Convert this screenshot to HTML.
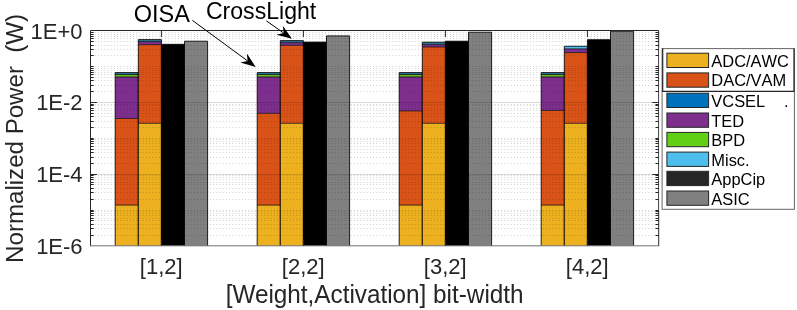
<!DOCTYPE html>
<html><head><meta charset="utf-8"><title>Normalized Power</title>
<style>html,body{margin:0;padding:0;background:#fff}svg{display:block}text{font-family:"Liberation Sans",Arial,Helvetica,sans-serif}</style></head><body>
<svg width="797" height="310" viewBox="0 0 797 310">
<rect width="797" height="310" fill="#fff"/>
<clipPath id="pc"><rect x="90.5" y="29.5" width="568.20" height="216.30"/></clipPath>
<g clip-path="url(#pc)">
<rect x="115.20" y="205.10" width="23.10" height="43.50" fill="#EDB120"/>
<rect x="115.20" y="118.50" width="23.10" height="86.60" fill="#D95319"/>
<rect x="115.20" y="76.90" width="23.10" height="41.60" fill="#7E2F8E"/>
<rect x="115.20" y="74.50" width="23.10" height="2.40" fill="#66BE1E"/>
<rect x="115.20" y="72.60" width="23.10" height="1.90" fill="#2A7A9C"/>
<line x1="115.20" x2="138.30" y1="205.10" y2="205.10" stroke="#000" stroke-width="0.7"/>
<line x1="115.20" x2="138.30" y1="118.50" y2="118.50" stroke="#000" stroke-width="0.7"/>
<line x1="115.20" x2="138.30" y1="76.90" y2="76.90" stroke="#000" stroke-width="0.7"/>
<line x1="115.20" x2="138.30" y1="74.50" y2="74.50" stroke="#000" stroke-width="0.7"/>
<path d="M115.20 248.6V72.60H138.30V248.6" fill="none" stroke="#000" stroke-width="0.85"/>
<rect x="138.30" y="123.30" width="23.10" height="125.30" fill="#EDB120"/>
<rect x="138.30" y="44.60" width="23.10" height="78.70" fill="#D95319"/>
<rect x="138.30" y="41.60" width="23.10" height="3.00" fill="#7E2F8E"/>
<rect x="138.30" y="39.60" width="23.10" height="2.00" fill="#2A7A9C"/>
<line x1="138.30" x2="161.40" y1="123.30" y2="123.30" stroke="#000" stroke-width="0.7"/>
<line x1="138.30" x2="161.40" y1="44.60" y2="44.60" stroke="#000" stroke-width="0.7"/>
<line x1="138.30" x2="161.40" y1="41.60" y2="41.60" stroke="#000" stroke-width="0.7"/>
<path d="M138.30 248.6V39.60H161.40V248.6" fill="none" stroke="#000" stroke-width="0.85"/>
<rect x="161.40" y="44.30" width="23.10" height="204.30" fill="#000000"/>
<path d="M161.40 248.6V44.30H184.50V248.6" fill="none" stroke="#000" stroke-width="0.85"/>
<rect x="184.50" y="41.20" width="23.10" height="207.40" fill="#808080"/>
<path d="M184.50 248.6V41.20H207.60V248.6" fill="none" stroke="#000" stroke-width="0.85"/>
<rect x="257.20" y="205.10" width="23.10" height="43.50" fill="#EDB120"/>
<rect x="257.20" y="113.30" width="23.10" height="91.80" fill="#D95319"/>
<rect x="257.20" y="76.90" width="23.10" height="36.40" fill="#7E2F8E"/>
<rect x="257.20" y="74.50" width="23.10" height="2.40" fill="#66BE1E"/>
<rect x="257.20" y="72.60" width="23.10" height="1.90" fill="#2A7A9C"/>
<line x1="257.20" x2="280.30" y1="205.10" y2="205.10" stroke="#000" stroke-width="0.7"/>
<line x1="257.20" x2="280.30" y1="113.30" y2="113.30" stroke="#000" stroke-width="0.7"/>
<line x1="257.20" x2="280.30" y1="76.90" y2="76.90" stroke="#000" stroke-width="0.7"/>
<line x1="257.20" x2="280.30" y1="74.50" y2="74.50" stroke="#000" stroke-width="0.7"/>
<path d="M257.20 248.6V72.60H280.30V248.6" fill="none" stroke="#000" stroke-width="0.85"/>
<rect x="280.30" y="123.30" width="23.10" height="125.30" fill="#EDB120"/>
<rect x="280.30" y="45.30" width="23.10" height="78.00" fill="#D95319"/>
<rect x="280.30" y="42.60" width="23.10" height="2.70" fill="#7E2F8E"/>
<rect x="280.30" y="40.60" width="23.10" height="2.00" fill="#2A7A9C"/>
<line x1="280.30" x2="303.40" y1="123.30" y2="123.30" stroke="#000" stroke-width="0.7"/>
<line x1="280.30" x2="303.40" y1="45.30" y2="45.30" stroke="#000" stroke-width="0.7"/>
<line x1="280.30" x2="303.40" y1="42.60" y2="42.60" stroke="#000" stroke-width="0.7"/>
<path d="M280.30 248.6V40.60H303.40V248.6" fill="none" stroke="#000" stroke-width="0.85"/>
<rect x="303.40" y="42.10" width="23.10" height="206.50" fill="#000000"/>
<path d="M303.40 248.6V42.10H326.50V248.6" fill="none" stroke="#000" stroke-width="0.85"/>
<rect x="326.50" y="35.90" width="23.10" height="212.70" fill="#808080"/>
<path d="M326.50 248.6V35.90H349.60V248.6" fill="none" stroke="#000" stroke-width="0.85"/>
<rect x="399.20" y="205.10" width="23.10" height="43.50" fill="#EDB120"/>
<rect x="399.20" y="110.90" width="23.10" height="94.20" fill="#D95319"/>
<rect x="399.20" y="76.90" width="23.10" height="34.00" fill="#7E2F8E"/>
<rect x="399.20" y="74.50" width="23.10" height="2.40" fill="#66BE1E"/>
<rect x="399.20" y="72.60" width="23.10" height="1.90" fill="#2A7A9C"/>
<line x1="399.20" x2="422.30" y1="205.10" y2="205.10" stroke="#000" stroke-width="0.7"/>
<line x1="399.20" x2="422.30" y1="110.90" y2="110.90" stroke="#000" stroke-width="0.7"/>
<line x1="399.20" x2="422.30" y1="76.90" y2="76.90" stroke="#000" stroke-width="0.7"/>
<line x1="399.20" x2="422.30" y1="74.50" y2="74.50" stroke="#000" stroke-width="0.7"/>
<path d="M399.20 248.6V72.60H422.30V248.6" fill="none" stroke="#000" stroke-width="0.85"/>
<rect x="422.30" y="123.30" width="23.10" height="125.30" fill="#EDB120"/>
<rect x="422.30" y="47.00" width="23.10" height="76.30" fill="#D95319"/>
<rect x="422.30" y="44.40" width="23.10" height="2.60" fill="#7E2F8E"/>
<rect x="422.30" y="42.20" width="23.10" height="2.20" fill="#2A7A9C"/>
<line x1="422.30" x2="445.40" y1="123.30" y2="123.30" stroke="#000" stroke-width="0.7"/>
<line x1="422.30" x2="445.40" y1="47.00" y2="47.00" stroke="#000" stroke-width="0.7"/>
<line x1="422.30" x2="445.40" y1="44.40" y2="44.40" stroke="#000" stroke-width="0.7"/>
<path d="M422.30 248.6V42.20H445.40V248.6" fill="none" stroke="#000" stroke-width="0.85"/>
<rect x="445.40" y="41.20" width="23.10" height="207.40" fill="#000000"/>
<path d="M445.40 248.6V41.20H468.50V248.6" fill="none" stroke="#000" stroke-width="0.85"/>
<rect x="468.50" y="32.20" width="23.10" height="216.40" fill="#808080"/>
<path d="M468.50 248.6V32.20H491.60V248.6" fill="none" stroke="#000" stroke-width="0.85"/>
<rect x="541.20" y="205.10" width="23.10" height="43.50" fill="#EDB120"/>
<rect x="541.20" y="110.40" width="23.10" height="94.70" fill="#D95319"/>
<rect x="541.20" y="76.90" width="23.10" height="33.50" fill="#7E2F8E"/>
<rect x="541.20" y="74.50" width="23.10" height="2.40" fill="#66BE1E"/>
<rect x="541.20" y="72.60" width="23.10" height="1.90" fill="#2A7A9C"/>
<line x1="541.20" x2="564.30" y1="205.10" y2="205.10" stroke="#000" stroke-width="0.7"/>
<line x1="541.20" x2="564.30" y1="110.40" y2="110.40" stroke="#000" stroke-width="0.7"/>
<line x1="541.20" x2="564.30" y1="76.90" y2="76.90" stroke="#000" stroke-width="0.7"/>
<line x1="541.20" x2="564.30" y1="74.50" y2="74.50" stroke="#000" stroke-width="0.7"/>
<path d="M541.20 248.6V72.60H564.30V248.6" fill="none" stroke="#000" stroke-width="0.85"/>
<rect x="564.30" y="123.30" width="23.10" height="125.30" fill="#EDB120"/>
<rect x="564.30" y="52.60" width="23.10" height="70.70" fill="#D95319"/>
<rect x="564.30" y="48.80" width="23.10" height="3.80" fill="#7E2F8E"/>
<rect x="564.30" y="46.30" width="23.10" height="2.50" fill="#4DBEEE"/>
<line x1="564.30" x2="587.40" y1="123.30" y2="123.30" stroke="#000" stroke-width="0.7"/>
<line x1="564.30" x2="587.40" y1="52.60" y2="52.60" stroke="#000" stroke-width="0.7"/>
<line x1="564.30" x2="587.40" y1="48.80" y2="48.80" stroke="#000" stroke-width="0.7"/>
<path d="M564.30 248.6V46.30H587.40V248.6" fill="none" stroke="#000" stroke-width="0.85"/>
<rect x="587.40" y="39.70" width="23.10" height="208.90" fill="#000000"/>
<path d="M587.40 248.6V39.70H610.50V248.6" fill="none" stroke="#000" stroke-width="0.85"/>
<rect x="610.50" y="31.20" width="23.10" height="217.40" fill="#808080"/>
<path d="M610.50 248.6V31.20H633.60V248.6" fill="none" stroke="#000" stroke-width="0.85"/>
</g>
<g stroke="#000" fill="none">
<line x1="91.50" x2="658.70" y1="235.50" y2="235.50" stroke-opacity="0.18" stroke-width="1" stroke-dasharray="1 2.2"/>
<line x1="91.50" x2="658.70" y1="228.50" y2="228.50" stroke-opacity="0.18" stroke-width="1" stroke-dasharray="1 2.2"/>
<line x1="91.50" x2="658.70" y1="224.50" y2="224.50" stroke-opacity="0.18" stroke-width="1" stroke-dasharray="1 2.2"/>
<line x1="91.50" x2="658.70" y1="220.50" y2="220.50" stroke-opacity="0.18" stroke-width="1" stroke-dasharray="1 2.2"/>
<line x1="91.50" x2="658.70" y1="218.50" y2="218.50" stroke-opacity="0.18" stroke-width="1" stroke-dasharray="1 2.2"/>
<line x1="91.50" x2="658.70" y1="215.50" y2="215.50" stroke-opacity="0.18" stroke-width="1" stroke-dasharray="1 2.2"/>
<line x1="91.50" x2="658.70" y1="213.50" y2="213.50" stroke-opacity="0.18" stroke-width="1" stroke-dasharray="1 2.2"/>
<line x1="91.50" x2="658.70" y1="211.50" y2="211.50" stroke-opacity="0.18" stroke-width="1" stroke-dasharray="1 2.2"/>
<line x1="91.50" x2="658.70" y1="210.50" y2="210.50" stroke-opacity="0.18" stroke-width="1" stroke-dasharray="1 2.2"/>
<line x1="91.50" x2="658.70" y1="199.50" y2="199.50" stroke-opacity="0.18" stroke-width="1" stroke-dasharray="1 2.2"/>
<line x1="91.50" x2="658.70" y1="192.50" y2="192.50" stroke-opacity="0.18" stroke-width="1" stroke-dasharray="1 2.2"/>
<line x1="91.50" x2="658.70" y1="188.50" y2="188.50" stroke-opacity="0.18" stroke-width="1" stroke-dasharray="1 2.2"/>
<line x1="91.50" x2="658.70" y1="184.50" y2="184.50" stroke-opacity="0.18" stroke-width="1" stroke-dasharray="1 2.2"/>
<line x1="91.50" x2="658.70" y1="182.50" y2="182.50" stroke-opacity="0.18" stroke-width="1" stroke-dasharray="1 2.2"/>
<line x1="91.50" x2="658.70" y1="179.50" y2="179.50" stroke-opacity="0.18" stroke-width="1" stroke-dasharray="1 2.2"/>
<line x1="91.50" x2="658.70" y1="177.50" y2="177.50" stroke-opacity="0.18" stroke-width="1" stroke-dasharray="1 2.2"/>
<line x1="91.50" x2="658.70" y1="175.50" y2="175.50" stroke-opacity="0.18" stroke-width="1" stroke-dasharray="1 2.2"/>
<line x1="91.50" x2="658.70" y1="163.50" y2="163.50" stroke-opacity="0.18" stroke-width="1" stroke-dasharray="1 2.2"/>
<line x1="91.50" x2="658.70" y1="157.50" y2="157.50" stroke-opacity="0.18" stroke-width="1" stroke-dasharray="1 2.2"/>
<line x1="91.50" x2="658.70" y1="152.50" y2="152.50" stroke-opacity="0.18" stroke-width="1" stroke-dasharray="1 2.2"/>
<line x1="91.50" x2="658.70" y1="149.50" y2="149.50" stroke-opacity="0.18" stroke-width="1" stroke-dasharray="1 2.2"/>
<line x1="91.50" x2="658.70" y1="146.50" y2="146.50" stroke-opacity="0.18" stroke-width="1" stroke-dasharray="1 2.2"/>
<line x1="91.50" x2="658.70" y1="143.50" y2="143.50" stroke-opacity="0.18" stroke-width="1" stroke-dasharray="1 2.2"/>
<line x1="91.50" x2="658.70" y1="141.50" y2="141.50" stroke-opacity="0.18" stroke-width="1" stroke-dasharray="1 2.2"/>
<line x1="91.50" x2="658.70" y1="139.50" y2="139.50" stroke-opacity="0.18" stroke-width="1" stroke-dasharray="1 2.2"/>
<line x1="91.50" x2="658.70" y1="138.50" y2="138.50" stroke-opacity="0.18" stroke-width="1" stroke-dasharray="1 2.2"/>
<line x1="91.50" x2="658.70" y1="127.50" y2="127.50" stroke-opacity="0.18" stroke-width="1" stroke-dasharray="1 2.2"/>
<line x1="91.50" x2="658.70" y1="121.50" y2="121.50" stroke-opacity="0.18" stroke-width="1" stroke-dasharray="1 2.2"/>
<line x1="91.50" x2="658.70" y1="116.50" y2="116.50" stroke-opacity="0.18" stroke-width="1" stroke-dasharray="1 2.2"/>
<line x1="91.50" x2="658.70" y1="113.50" y2="113.50" stroke-opacity="0.18" stroke-width="1" stroke-dasharray="1 2.2"/>
<line x1="91.50" x2="658.70" y1="110.50" y2="110.50" stroke-opacity="0.18" stroke-width="1" stroke-dasharray="1 2.2"/>
<line x1="91.50" x2="658.70" y1="108.50" y2="108.50" stroke-opacity="0.18" stroke-width="1" stroke-dasharray="1 2.2"/>
<line x1="91.50" x2="658.70" y1="105.50" y2="105.50" stroke-opacity="0.18" stroke-width="1" stroke-dasharray="1 2.2"/>
<line x1="91.50" x2="658.70" y1="104.50" y2="104.50" stroke-opacity="0.18" stroke-width="1" stroke-dasharray="1 2.2"/>
<line x1="91.50" x2="658.70" y1="91.50" y2="91.50" stroke-opacity="0.18" stroke-width="1" stroke-dasharray="1 2.2"/>
<line x1="91.50" x2="658.70" y1="85.50" y2="85.50" stroke-opacity="0.18" stroke-width="1" stroke-dasharray="1 2.2"/>
<line x1="91.50" x2="658.70" y1="80.50" y2="80.50" stroke-opacity="0.18" stroke-width="1" stroke-dasharray="1 2.2"/>
<line x1="91.50" x2="658.70" y1="77.50" y2="77.50" stroke-opacity="0.18" stroke-width="1" stroke-dasharray="1 2.2"/>
<line x1="91.50" x2="658.70" y1="74.50" y2="74.50" stroke-opacity="0.18" stroke-width="1" stroke-dasharray="1 2.2"/>
<line x1="91.50" x2="658.70" y1="72.50" y2="72.50" stroke-opacity="0.18" stroke-width="1" stroke-dasharray="1 2.2"/>
<line x1="91.50" x2="658.70" y1="70.50" y2="70.50" stroke-opacity="0.18" stroke-width="1" stroke-dasharray="1 2.2"/>
<line x1="91.50" x2="658.70" y1="68.50" y2="68.50" stroke-opacity="0.18" stroke-width="1" stroke-dasharray="1 2.2"/>
<line x1="91.50" x2="658.70" y1="66.50" y2="66.50" stroke-opacity="0.18" stroke-width="1" stroke-dasharray="1 2.2"/>
<line x1="91.50" x2="658.70" y1="55.50" y2="55.50" stroke-opacity="0.18" stroke-width="1" stroke-dasharray="1 2.2"/>
<line x1="91.50" x2="658.70" y1="49.50" y2="49.50" stroke-opacity="0.18" stroke-width="1" stroke-dasharray="1 2.2"/>
<line x1="91.50" x2="658.70" y1="45.50" y2="45.50" stroke-opacity="0.18" stroke-width="1" stroke-dasharray="1 2.2"/>
<line x1="91.50" x2="658.70" y1="41.50" y2="41.50" stroke-opacity="0.18" stroke-width="1" stroke-dasharray="1 2.2"/>
<line x1="91.50" x2="658.70" y1="38.50" y2="38.50" stroke-opacity="0.18" stroke-width="1" stroke-dasharray="1 2.2"/>
<line x1="91.50" x2="658.70" y1="36.50" y2="36.50" stroke-opacity="0.18" stroke-width="1" stroke-dasharray="1 2.2"/>
<line x1="91.50" x2="658.70" y1="34.50" y2="34.50" stroke-opacity="0.18" stroke-width="1" stroke-dasharray="1 2.2"/>
<line x1="91.50" x2="658.70" y1="32.50" y2="32.50" stroke-opacity="0.18" stroke-width="1" stroke-dasharray="1 2.2"/>
<line x1="90.50" x2="658.70" y1="174.50" y2="174.50" stroke-opacity="0.15" stroke-width="1"/>
<line x1="90.50" x2="658.70" y1="102.50" y2="102.50" stroke-opacity="0.15" stroke-width="1"/>
</g>
<g stroke="#262626" stroke-width="1" fill="none">
<path d="M90.5 246.1V30.5H658.7V246.1"/>
<line x1="90.0" x2="659.2" y1="245.79999999999998" y2="245.79999999999998" stroke="#707070"/>
<line x1="161.40" x2="161.40" y1="30.5" y2="37.1"/>
<line x1="161.40" x2="161.40" y1="245.6" y2="239.6"/>
<line x1="303.40" x2="303.40" y1="30.5" y2="37.1"/>
<line x1="303.40" x2="303.40" y1="245.6" y2="239.6"/>
<line x1="445.40" x2="445.40" y1="30.5" y2="37.1"/>
<line x1="445.40" x2="445.40" y1="245.6" y2="239.6"/>
<line x1="587.40" x2="587.40" y1="30.5" y2="37.1"/>
<line x1="587.40" x2="587.40" y1="245.6" y2="239.6"/>
<line x1="90.5" x2="93.7" y1="235.50" y2="235.50"/>
<line x1="658.7" x2="655.5" y1="235.50" y2="235.50"/>
<line x1="90.5" x2="93.7" y1="228.50" y2="228.50"/>
<line x1="658.7" x2="655.5" y1="228.50" y2="228.50"/>
<line x1="90.5" x2="93.7" y1="224.50" y2="224.50"/>
<line x1="658.7" x2="655.5" y1="224.50" y2="224.50"/>
<line x1="90.5" x2="93.7" y1="220.50" y2="220.50"/>
<line x1="658.7" x2="655.5" y1="220.50" y2="220.50"/>
<line x1="90.5" x2="93.7" y1="218.50" y2="218.50"/>
<line x1="658.7" x2="655.5" y1="218.50" y2="218.50"/>
<line x1="90.5" x2="93.7" y1="215.50" y2="215.50"/>
<line x1="658.7" x2="655.5" y1="215.50" y2="215.50"/>
<line x1="90.5" x2="93.7" y1="213.50" y2="213.50"/>
<line x1="658.7" x2="655.5" y1="213.50" y2="213.50"/>
<line x1="90.5" x2="93.7" y1="211.50" y2="211.50"/>
<line x1="658.7" x2="655.5" y1="211.50" y2="211.50"/>
<line x1="90.5" x2="93.7" y1="210.50" y2="210.50"/>
<line x1="658.7" x2="655.5" y1="210.50" y2="210.50"/>
<line x1="90.5" x2="93.7" y1="199.50" y2="199.50"/>
<line x1="658.7" x2="655.5" y1="199.50" y2="199.50"/>
<line x1="90.5" x2="93.7" y1="192.50" y2="192.50"/>
<line x1="658.7" x2="655.5" y1="192.50" y2="192.50"/>
<line x1="90.5" x2="93.7" y1="188.50" y2="188.50"/>
<line x1="658.7" x2="655.5" y1="188.50" y2="188.50"/>
<line x1="90.5" x2="93.7" y1="184.50" y2="184.50"/>
<line x1="658.7" x2="655.5" y1="184.50" y2="184.50"/>
<line x1="90.5" x2="93.7" y1="182.50" y2="182.50"/>
<line x1="658.7" x2="655.5" y1="182.50" y2="182.50"/>
<line x1="90.5" x2="93.7" y1="179.50" y2="179.50"/>
<line x1="658.7" x2="655.5" y1="179.50" y2="179.50"/>
<line x1="90.5" x2="93.7" y1="177.50" y2="177.50"/>
<line x1="658.7" x2="655.5" y1="177.50" y2="177.50"/>
<line x1="90.5" x2="93.7" y1="175.50" y2="175.50"/>
<line x1="658.7" x2="655.5" y1="175.50" y2="175.50"/>
<line x1="90.5" x2="96.9" y1="174.50" y2="174.50"/>
<line x1="658.7" x2="652.3000000000001" y1="174.50" y2="174.50"/>
<line x1="90.5" x2="93.7" y1="163.50" y2="163.50"/>
<line x1="658.7" x2="655.5" y1="163.50" y2="163.50"/>
<line x1="90.5" x2="93.7" y1="157.50" y2="157.50"/>
<line x1="658.7" x2="655.5" y1="157.50" y2="157.50"/>
<line x1="90.5" x2="93.7" y1="152.50" y2="152.50"/>
<line x1="658.7" x2="655.5" y1="152.50" y2="152.50"/>
<line x1="90.5" x2="93.7" y1="149.50" y2="149.50"/>
<line x1="658.7" x2="655.5" y1="149.50" y2="149.50"/>
<line x1="90.5" x2="93.7" y1="146.50" y2="146.50"/>
<line x1="658.7" x2="655.5" y1="146.50" y2="146.50"/>
<line x1="90.5" x2="93.7" y1="143.50" y2="143.50"/>
<line x1="658.7" x2="655.5" y1="143.50" y2="143.50"/>
<line x1="90.5" x2="93.7" y1="141.50" y2="141.50"/>
<line x1="658.7" x2="655.5" y1="141.50" y2="141.50"/>
<line x1="90.5" x2="93.7" y1="139.50" y2="139.50"/>
<line x1="658.7" x2="655.5" y1="139.50" y2="139.50"/>
<line x1="90.5" x2="93.7" y1="138.50" y2="138.50"/>
<line x1="658.7" x2="655.5" y1="138.50" y2="138.50"/>
<line x1="90.5" x2="93.7" y1="127.50" y2="127.50"/>
<line x1="658.7" x2="655.5" y1="127.50" y2="127.50"/>
<line x1="90.5" x2="93.7" y1="121.50" y2="121.50"/>
<line x1="658.7" x2="655.5" y1="121.50" y2="121.50"/>
<line x1="90.5" x2="93.7" y1="116.50" y2="116.50"/>
<line x1="658.7" x2="655.5" y1="116.50" y2="116.50"/>
<line x1="90.5" x2="93.7" y1="113.50" y2="113.50"/>
<line x1="658.7" x2="655.5" y1="113.50" y2="113.50"/>
<line x1="90.5" x2="93.7" y1="110.50" y2="110.50"/>
<line x1="658.7" x2="655.5" y1="110.50" y2="110.50"/>
<line x1="90.5" x2="93.7" y1="108.50" y2="108.50"/>
<line x1="658.7" x2="655.5" y1="108.50" y2="108.50"/>
<line x1="90.5" x2="93.7" y1="105.50" y2="105.50"/>
<line x1="658.7" x2="655.5" y1="105.50" y2="105.50"/>
<line x1="90.5" x2="93.7" y1="104.50" y2="104.50"/>
<line x1="658.7" x2="655.5" y1="104.50" y2="104.50"/>
<line x1="90.5" x2="96.9" y1="102.50" y2="102.50"/>
<line x1="658.7" x2="652.3000000000001" y1="102.50" y2="102.50"/>
<line x1="90.5" x2="93.7" y1="91.50" y2="91.50"/>
<line x1="658.7" x2="655.5" y1="91.50" y2="91.50"/>
<line x1="90.5" x2="93.7" y1="85.50" y2="85.50"/>
<line x1="658.7" x2="655.5" y1="85.50" y2="85.50"/>
<line x1="90.5" x2="93.7" y1="80.50" y2="80.50"/>
<line x1="658.7" x2="655.5" y1="80.50" y2="80.50"/>
<line x1="90.5" x2="93.7" y1="77.50" y2="77.50"/>
<line x1="658.7" x2="655.5" y1="77.50" y2="77.50"/>
<line x1="90.5" x2="93.7" y1="74.50" y2="74.50"/>
<line x1="658.7" x2="655.5" y1="74.50" y2="74.50"/>
<line x1="90.5" x2="93.7" y1="72.50" y2="72.50"/>
<line x1="658.7" x2="655.5" y1="72.50" y2="72.50"/>
<line x1="90.5" x2="93.7" y1="70.50" y2="70.50"/>
<line x1="658.7" x2="655.5" y1="70.50" y2="70.50"/>
<line x1="90.5" x2="93.7" y1="68.50" y2="68.50"/>
<line x1="658.7" x2="655.5" y1="68.50" y2="68.50"/>
<line x1="90.5" x2="93.7" y1="66.50" y2="66.50"/>
<line x1="658.7" x2="655.5" y1="66.50" y2="66.50"/>
<line x1="90.5" x2="93.7" y1="55.50" y2="55.50"/>
<line x1="658.7" x2="655.5" y1="55.50" y2="55.50"/>
<line x1="90.5" x2="93.7" y1="49.50" y2="49.50"/>
<line x1="658.7" x2="655.5" y1="49.50" y2="49.50"/>
<line x1="90.5" x2="93.7" y1="45.50" y2="45.50"/>
<line x1="658.7" x2="655.5" y1="45.50" y2="45.50"/>
<line x1="90.5" x2="93.7" y1="41.50" y2="41.50"/>
<line x1="658.7" x2="655.5" y1="41.50" y2="41.50"/>
<line x1="90.5" x2="93.7" y1="38.50" y2="38.50"/>
<line x1="658.7" x2="655.5" y1="38.50" y2="38.50"/>
<line x1="90.5" x2="93.7" y1="36.50" y2="36.50"/>
<line x1="658.7" x2="655.5" y1="36.50" y2="36.50"/>
<line x1="90.5" x2="93.7" y1="34.50" y2="34.50"/>
<line x1="658.7" x2="655.5" y1="34.50" y2="34.50"/>
<line x1="90.5" x2="93.7" y1="32.50" y2="32.50"/>
<line x1="658.7" x2="655.5" y1="32.50" y2="32.50"/>
</g>
<g fill="#262626">
<text transform="translate(82.60,38.70) scale(1,1.03)" font-size="22.0px" text-anchor="end">1E+0</text>
<text transform="translate(82.60,110.40) scale(1,1.03)" font-size="22.0px" text-anchor="end">1E-2</text>
<text transform="translate(82.60,182.10) scale(1,1.03)" font-size="22.0px" text-anchor="end">1E-4</text>
<text transform="translate(82.60,253.80) scale(1,1.03)" font-size="22.0px" text-anchor="end">1E-6</text>
<text transform="translate(161.25,273.50) scale(1,1.0)" font-size="22.0px" text-anchor="middle">[1,2]</text>
<text transform="translate(303.25,273.50) scale(1,1.0)" font-size="22.0px" text-anchor="middle">[2,2]</text>
<text transform="translate(445.25,273.50) scale(1,1.0)" font-size="22.0px" text-anchor="middle">[3,2]</text>
<text transform="translate(587.25,273.50) scale(1,1.0)" font-size="22.0px" text-anchor="middle">[4,2]</text>
<text transform="translate(374.60,302.70) scale(1,1.03)" font-size="24.3px" text-anchor="middle">[Weight,Activation] bit-width</text>
<text transform="translate(22.90,138.40) rotate(-90) scale(1,1.03)" font-size="24.1px" text-anchor="middle" xml:space="preserve">Normalized Power  (W)</text>
</g>
<g fill="#000">
<text transform="translate(133.70,21.70) scale(1,1.04)" font-size="23.5px" text-anchor="start">OISA</text>
<text transform="translate(205.90,19.30) scale(1,1.05)" font-size="23.1px" text-anchor="start">CrossLight</text>
</g>
<line x1="192.30" y1="20.30" x2="247.64" y2="60.98" stroke="#000" stroke-width="1"/>
<polygon points="255.70,66.90 240.36,62.45 247.64,60.98 246.87,53.58" fill="#000"/>
<line x1="266.30" y1="20.80" x2="283.72" y2="33.05" stroke="#000" stroke-width="1"/>
<polygon points="291.90,38.80 276.47,34.67 283.72,33.05 282.79,25.67" fill="#000"/>
<g>
<rect x="659.3" y="47.6" width="136.2" height="162.6" fill="#fff"/>
<rect x="662.1" y="48.6" width="132.3" height="160.7" fill="#fff" stroke="#666" stroke-width="1"/>
<path d="M662.7 48.6V91.4H794V48.6" fill="none" stroke="#262626" stroke-width="1.2"/>
<g stroke="#262626" stroke-width="1">
<rect x="666.9" y="53.2" width="41.7" height="14.3" fill="#EDB120"/>
<rect x="666.9" y="72.9" width="41.7" height="14.3" fill="#D95319"/>
<rect x="666.9" y="93.2" width="41.7" height="14.3" fill="#0072BD"/>
<rect x="666.9" y="113.0" width="41.7" height="14.3" fill="#7E2F8E"/>
<rect x="666.9" y="132.4" width="41.7" height="14.3" fill="#5FD014"/>
<rect x="666.9" y="152.1" width="41.7" height="14.3" fill="#4DBEEE"/>
<rect x="666.9" y="171.3" width="41.7" height="14.3" fill="#262626"/>
<rect x="666.9" y="191.0" width="41.7" height="14.3" fill="#808080"/>
</g>
<g fill="#000" style="font-kerning:none">
<text transform="translate(711.30,66.70) scale(1,1.05)" font-size="16.45px" text-anchor="start">ADC/AWC</text>
<text transform="translate(711.30,86.40) scale(1,1.05)" font-size="16.45px" text-anchor="start">DAC/VAM</text>
<text transform="translate(711.30,106.70) scale(1,1.05)" font-size="16.45px" text-anchor="start">VCSEL</text>
<text transform="translate(711.30,126.50) scale(1,1.05)" font-size="16.45px" text-anchor="start">TED</text>
<text transform="translate(711.30,145.90) scale(1,1.05)" font-size="16.45px" text-anchor="start">BPD</text>
<text transform="translate(711.30,165.60) scale(1,1.05)" font-size="16.45px" text-anchor="start">Misc.</text>
<text transform="translate(711.30,184.80) scale(1,1.05)" font-size="16.45px" text-anchor="start">AppCip</text>
<text transform="translate(711.30,204.50) scale(1,1.05)" font-size="16.45px" text-anchor="start">ASIC</text>
<text transform="translate(784.00,106.50) scale(1,1.04)" font-size="16.45px" text-anchor="start">.</text>
</g></g>
</svg></body></html>
